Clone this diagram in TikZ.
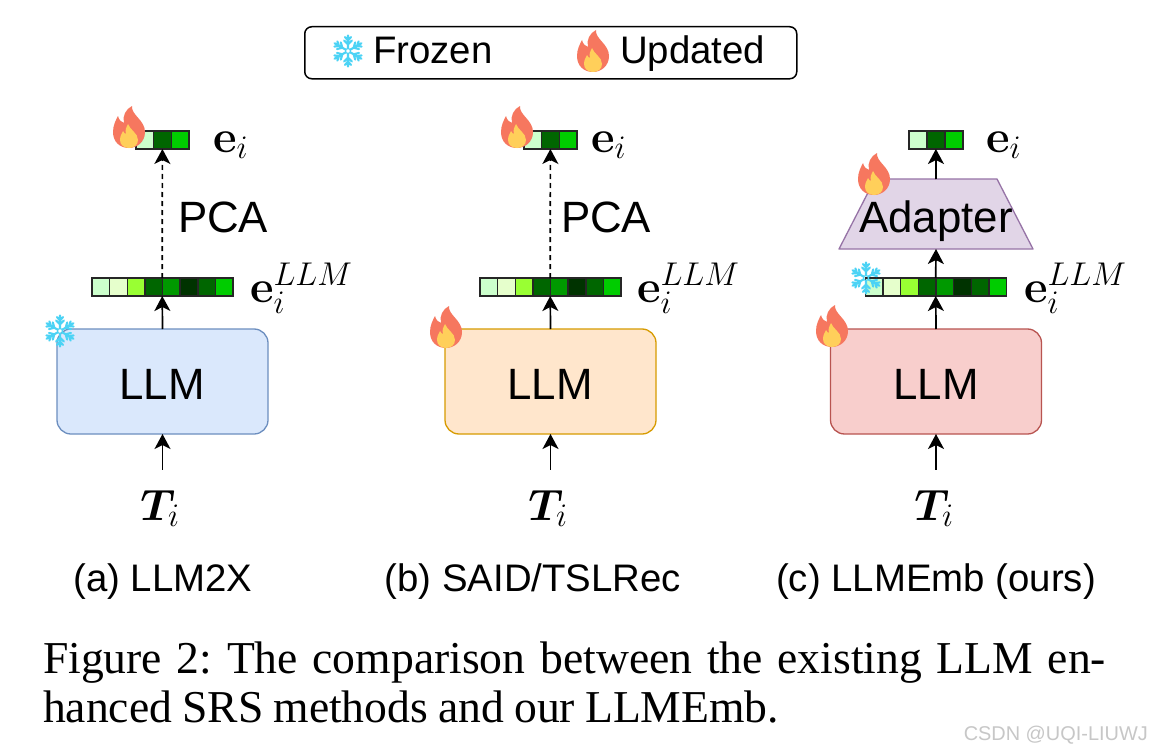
\documentclass[tikz,border=0pt]{standalone}
\usepackage{fix-cm}
\usepackage{amsmath,bm}
\usepackage[no-math]{fontspec}
\setmainfont{Liberation Sans}
\newfontfamily\serifcap{Liberation Serif}
\usetikzlibrary{arrows.meta,shapes.geometric}
\DeclareMathSizes{46}{46}{33}{26}
\DeclareMathSizes{44}{44}{33}{26}
\definecolor{flameout}{HTML}{F6775F}
\definecolor{flamein}{HTML}{FFCF5A}
\definecolor{snowc}{HTML}{4CD3F5}
\definecolor{cA}{HTML}{CCFFCC}
\definecolor{cB}{HTML}{E6FFCC}
\definecolor{cC}{HTML}{99FF33}
\definecolor{cD}{HTML}{006600}
\definecolor{cE}{HTML}{009900}
\definecolor{cF}{HTML}{003300}
\definecolor{cG}{HTML}{00CC00}
\definecolor{blueD}{HTML}{6C8EBF}
\definecolor{blueF}{HTML}{DAE8FC}
\definecolor{orangeD}{HTML}{D79B00}
\definecolor{orangeF}{HTML}{FFE6CC}
\definecolor{redD}{HTML}{B85450}
\definecolor{redF}{HTML}{F8CECC}
\definecolor{purpD}{HTML}{9673A6}
\definecolor{purpF}{HTML}{E1D5E7}
\newcommand{\fs}[1]{\fontsize{#1}{#1}\selectfont}
\newcommand{\flamepic}[2]{%
  \begin{scope}[shift={(#1,#2)}]
    \fill[flameout] (3,-21) .. controls (2,-12) and (16,-7) .. (16,5) .. controls (16,15) and (8,21) .. (0,21) .. controls (-9,21) and (-16,15) .. (-16,5) .. controls (-16,-2) and (-13,-7) .. (-11,-11) .. controls (-10,-7) and (-8,-5) .. (-5,-4) .. controls (-7,-11) and (-3,-18) .. (3,-21) -- cycle;
    \fill[flamein] (-1,-3) .. controls (1,3) and (9,6) .. (9,13) .. controls (9,18) and (5,21) .. (0,21) .. controls (-5,21) and (-9,18) .. (-9,13) .. controls (-9,9) and (-7,6) .. (-6,4) .. controls (-5,6) and (-4,7) .. (-3,7) .. controls (-4,3) and (-3,0) .. (-1,-3) -- cycle;
  \end{scope}}
\newcommand{\snowpic}[2]{%
  \begin{scope}[shift={(#1,#2)}]
    \foreach \a in {30,90,...,330}{
      \draw[snowc,line width=2.1bp,line cap=round,rotate=\a]
        (2.5,0) -- (15.5,0) (6.5,0) -- (10.5,3.8) (6.5,0) -- (10.5,-3.8) (10.5,0) -- (14,3) (10.5,0) -- (14,-3);
    }
    \draw[snowc,line width=1bp] (0,0) circle (2.6);
  \end{scope}}
% name, left x, top y, cell width, colours
\newcommand{\cellstrip}[5]{%
  \foreach \c [count=\n from 0] in {#5}{
    \draw[cellline,fill=\c] ({#2+\n*#4},#3) rectangle ({#2+(\n+1)*#4},#3+18);
  }
  \foreach \c [count=\n from 1] in {#5}{\xdef\ncells{\n}}
  \node[stripframe,minimum width={\ncells*#4},anchor=north west] (#1) at (#2,#3) {};}
\tikzset{
  cellline/.style={draw=black!85,line width=1.4bp},
  stripframe/.style={inner sep=0pt,outer sep=0pt,minimum height=18bp},
  arr/.style={-{Stealth[length=15bp,width=16bp,inset=4bp]},line width=1.7bp,black},
  dasharr/.style={arr,dash pattern=on 5bp off 4bp},
  llmbox/.style={rounded corners=14bp,minimum width=211bp,minimum height=105bp,line width=1.3bp,inner sep=0pt,outer sep=0pt,anchor=north west},
  lab/.style={inner sep=0pt,outer sep=0pt,anchor=base,font=\fs{44}},
  sublab/.style={inner sep=0pt,outer sep=0pt,anchor=base,font=\fs{38.5}},
  mathlab/.style={inner sep=0pt,outer sep=0pt,anchor=base west,font=\fs{46}},
  legendbox/.style={draw=black,line width=1.5bp,rounded corners=7bp,minimum width=492bp,minimum height=52bp,inner sep=0pt,anchor=north west},
  caplab/.style={inner sep=0pt,outer sep=0pt,anchor=base west,font=\serifcap\fs{45.8}\frenchspacing},
  adapterframe/.style={inner sep=0pt,outer sep=0pt,minimum width=194bp,minimum height=70bp},
}
\begin{document}
\begin{tikzpicture}[x=1bp,y=-1bp]
\useasboundingbox (0,0) rectangle (1152,753);
\fill[white] (0,0) rectangle (1152,753);
% legend
\node[legendbox] (legend) at (304,26) {};
\snowpic{348}{51}
\node[sublab,anchor=base west] (frozen) at (373,64) {Frozen};
\flamepic{593}{51}
\node[sublab,anchor=base west] (updated) at (620,64) {Updated};
% LLM boxes
\node[llmbox,draw=blueD,fill=blueF] (llma) at (57,329) {};
\node[llmbox,draw=orangeD,fill=orangeF] (llmb) at (445,329) {};
\node[llmbox,draw=redD,fill=redF] (llmc) at (830.5,329) {};
\node[lab] (la) at (162,399) {LLM};
\node[lab] (lb) at (550,399) {LLM};
\node[lab] (lc) at (936,399) {LLM};
% adapter
\node[adapterframe] (adapter) at (936,214) {};
\draw[purpD,fill=purpF,line width=1.3bp,line join=round] (875,179) -- (997,179) -- (1033,249) -- (839,249) -- cycle;
\node[lab] (adtext) at (936,232) {Adapter};
% strips
\cellstrip{sa}{91.9}{278}{17.65}{cA,cB,cC,cD,cE,cF,cD,cG}
\cellstrip{sb}{479.9}{278}{17.65}{cA,cB,cC,cD,cE,cF,cD,cG}
\cellstrip{sc}{865.4}{278}{17.65}{cA,cB,cC,cD,cE,cF,cD,cG}
\cellstrip{ta}{135.95}{131}{17.7}{cA,cD,cG}
\cellstrip{tb}{523.95}{131}{17.7}{cA,cD,cG}
\cellstrip{tc}{909.15}{131}{17.9}{cA,cD,cG}
% inputs
\node[lab,font=\fs{44}] (ina) at (160,520) {$\boldsymbol{T}_i$};
\node[lab,font=\fs{44}] (inb) at (548,520) {$\boldsymbol{T}_i$};
\node[lab,font=\fs{44}] (inc) at (934,520) {$\boldsymbol{T}_i$};
% connectors
\draw[arr,shorten <=20bp] (ina.north -| llma.south) -- (llma.south);
\draw[arr,shorten <=20bp] (inb.north -| llmb.south) -- (llmb.south);
\draw[arr,shorten <=20bp] (inc.north -| llmc.south) -- (llmc.south);
\draw[arr] (llma.north) -- (sa.south);
\draw[arr] (llmb.north) -- (sb.south);
\draw[arr] (llmc.north) -- (sc.south);
\draw[dasharr] (sa.north) -- (ta.south);
\draw[dasharr] (sb.north) -- (tb.south);
\draw[arr] (sc.north) -- (adapter.south);
\draw[arr] (adapter.north) -- (tc.south);
% labels
\node[lab,anchor=base west] (pa) at (178,232) {PCA};
\node[lab,anchor=base west] (pb) at (561,232) {PCA};
\node[mathlab] (ea) at (213,152) {$\mathbf{e}_i$};
\node[mathlab] (eb) at (591,152) {$\mathbf{e}_i$};
\node[mathlab] (ec) at (986,152) {$\mathbf{e}_i$};
\node[mathlab] (ela) at (250,302) {$\mathbf{e}_i^{LLM}$};
\node[mathlab] (elb) at (637,302) {$\mathbf{e}_i^{LLM}$};
\node[mathlab] (elc) at (1024,302) {$\mathbf{e}_i^{LLM}$};
% icons
\flamepic{129}{127}
\flamepic{517}{127}
\flamepic{874}{174}
\snowpic{60}{331}
\flamepic{446}{327}
\flamepic{832}{326}
\snowpic{866}{278}
% sub captions
\node[sublab] (ca) at (163,591) {(a) LLM2X};
\node[sublab] (cb) at (533,591) {(b) SAID/TSLRec};
\node[sublab] (cc) at (936,591) {(c) LLMEmb (ours)};
% figure caption
\node[caplab] (fig1) at (43,673) {\hbox to 1063bp{Figure 2: The comparison between the existing LLM en-}};
\node[caplab] (fig2) at (43,722) {\hbox to 736bp{hanced SRS methods and our LLMEmb.}};
% watermark
\node[inner sep=0pt,anchor=base east,font=\fs{20},text=black!22] (wm) at (1148,740) {CSDN @UQI-LIUWJ};
\end{tikzpicture}
\end{document}
